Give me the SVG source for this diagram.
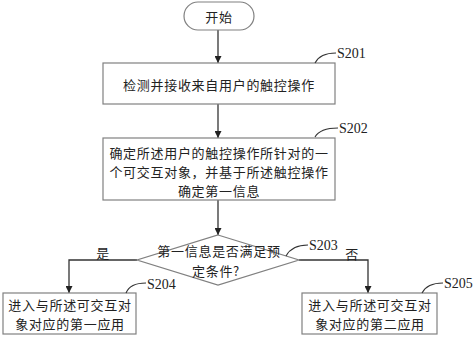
<svg xmlns="http://www.w3.org/2000/svg" width="474" height="337" viewBox="0 0 474 337">
<style>
.box{fill:#fff;stroke:#808080;stroke-width:1.2}
.ln{fill:none;stroke:#333;stroke-width:1.3}
.lead{fill:none;stroke:#333;stroke-width:1.1}
.t{font-family:"Noto Sans CJK SC","Noto Sans",sans-serif;font-size:13px;fill:#222;text-anchor:middle;dominant-baseline:central;letter-spacing:0.7px}
.s{font-family:"Liberation Serif",serif;font-size:14px;fill:#222;dominant-baseline:central}
</style>
<defs>
<marker id="ah" viewBox="0 0 10 10" refX="10" refY="5" markerWidth="7" markerHeight="7" markerUnits="userSpaceOnUse" orient="auto">
<path d="M0,0 L10,5 L0,10 z" fill="#222"/>
</marker>
</defs>
<rect width="474" height="337" fill="#fff"/>
<g id="connectors">
<line class="ln" x1="218" y1="30" x2="218" y2="63" marker-end="url(#ah)"/>
<line class="ln" x1="218" y1="104" x2="218" y2="138" marker-end="url(#ah)"/>
<line class="ln" x1="218" y1="200" x2="218" y2="235" marker-end="url(#ah)"/>
<polyline class="ln" points="137,260 69,260 69,293" marker-end="url(#ah)"/>
<polyline class="ln" points="299,260 368,260 368,293" marker-end="url(#ah)"/>
<text class="t" x="103" y="252">是</text>
<text class="t" x="352" y="253">否</text>
</g>
<g id="start">
<rect class="box" x="184" y="2" width="70" height="28" rx="14"/>
<text class="t" x="219" y="16">开始</text>
</g>
<g id="s201">
<rect class="box" x="103" y="63" width="232" height="41"/>
<text class="t" x="219" y="84">检测并接收来自用户的触控操作</text>
<path class="lead" d="M315,63 Q320,53 336,53"/>
<text class="s" x="337" y="53">S201</text>
</g>
<g id="s202">
<rect class="box" x="103" y="138" width="232" height="62"/>
<text class="t" x="219" y="152">确定所述用户的触控操作所针对的一</text>
<text class="t" x="219" y="171">个可交互对象，并基于所述触控操作</text>
<text class="t" x="219" y="190">确定第一信息</text>
<path class="lead" d="M315,137 Q320,128 338,128"/>
<text class="s" x="339" y="128">S202</text>
</g>
<g id="s203">
<polygon class="box" points="218,235 299,260 218,285 137,260"/>
<text class="t" x="219" y="250">第一信息是否满足预</text>
<text class="t" x="216" y="270">定条件?</text>
<path class="lead" d="M286,256 Q292,245 308,245"/>
<text class="s" x="309" y="245">S203</text>
</g>
<g id="s204">
<rect class="box" x="3" y="293" width="133" height="41"/>
<text class="t" x="70" y="304">进入与所述可交互对</text>
<text class="t" x="70" y="323">象对应的第一应用</text>
<path class="lead" d="M126,293 Q130,283 146,283"/>
<text class="s" x="147" y="284">S204</text>
</g>
<g id="s205">
<rect class="box" x="302" y="293" width="135" height="41"/>
<text class="t" x="370" y="304">进入与所述可交互对</text>
<text class="t" x="370" y="323">象对应的第二应用</text>
<path class="lead" d="M422,293 Q427,283 443,283"/>
<text class="s" x="444" y="283">S205</text>
</g>
</svg>
